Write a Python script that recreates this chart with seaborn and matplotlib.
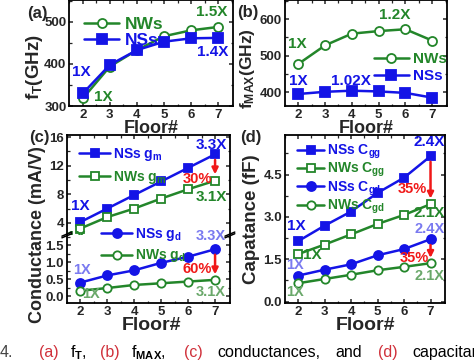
import numpy as np
import pandas as pd
import matplotlib
matplotlib.use("Agg")
import matplotlib.pyplot as plt
import seaborn as sns
from matplotlib.ticker import AutoMinorLocator

# data
floors = [2, 3, 4, 5, 6, 7]
ft_nws = [318, 394, 433, 466, 480, 488]
ft_nss = [330, 398, 433, 453, 461, 462]
fmax_nws = [477, 528, 560, 567, 572, 541]
fmax_nss = [395, 401, 404, 402, 398, 385]
gm_nss = [4.1, 6.0, 7.9, 9.8, 11.7, 13.6]
gm_nws = [3.2, 4.8, 6.0, 7.4, 8.7, 9.9]
gd_nss = [0.40, 0.61, 0.76, 0.98, 1.16, 1.38]
gd_nws = [0.16, 0.24, 0.33, 0.38, 0.43, 0.48]
cgg_nss = [2.14, 2.69, 3.19, 3.85, 4.39, 5.15]
cgg_nws = [1.68, 2.02, 2.38, 2.75, 3.07, 3.45]
cgd_nss = [0.92, 1.13, 1.32, 1.64, 1.86, 2.21]
cgd_nws = [0.65, 0.80, 0.95, 1.11, 1.23, 1.36]

BLUE = "#1414e6"
GREEN = "#23862a"
RED = "#f01818"
LBLUE = "#7a7af0"
LGREEN = "#6aa86a"

sns.set_style("ticks")
plt.rcParams["font.family"] = ["Liberation Sans", "DejaVu Sans"]
plt.rcParams["font.weight"] = "bold"
plt.rcParams["axes.labelweight"] = "bold"
plt.rcParams["axes.linewidth"] = 1.3
plt.rcParams["mathtext.fontset"] = "custom"
plt.rcParams["mathtext.rm"] = "Liberation Sans"
plt.rcParams["mathtext.bf"] = "Liberation Sans:bold"
plt.rcParams["mathtext.default"] = "bf"

fig = plt.figure(figsize=(4.74, 3.62), dpi=100)


def style(ax, bottom=True, top=True):
    ax.tick_params(direction="in", labelsize=9.5, width=1.1, length=3,
                   top=top, right=True, bottom=bottom, pad=2)
    ax.tick_params(which="minor", direction="in", length=1.8, width=0.9,
                   top=top, right=True, bottom=bottom)
    ax.xaxis.set_minor_locator(AutoMinorLocator(2))
    ax.yaxis.set_minor_locator(AutoMinorLocator(2))
    for s in ax.spines.values():
        s.set_color("black")
    for lab in ax.get_xticklabels() + ax.get_yticklabels():
        lab.set_fontweight("bold")


def line(ax, y, color, marker, filled, label, ms=6.5):
    sns.lineplot(x=floors, y=y, ax=ax, color=color, marker=marker, label=label,
                 markersize=ms, linewidth=1.8, markeredgecolor=color,
                 markeredgewidth=1.3,
                 markerfacecolor=color if filled else "white")


def color_legend(leg, colors):
    for t, c in zip(leg.get_texts(), colors):
        t.set_color(c)
        t.set_fontweight("bold")


ARROW = dict(arrowstyle="-|>", color=RED, lw=1.8, mutation_scale=9)

# ---- (a) fT
axa = fig.add_axes([0.146, 0.707, 0.346, 0.293])
line(axa, ft_nws, GREEN, "o", False, "NWs")
line(axa, ft_nss, BLUE, "s", True, "NSs")
axa.set_xlim(1.5, 7.55)
axa.set_ylim(300, 552)
axa.set_xticks(floors)
axa.set_yticks([300, 400, 500])
axa.set_ylabel("")
leg = axa.legend(loc="upper left", bbox_to_anchor=(0.04, 0.92), frameon=False,
                 fontsize=12.5, handlelength=2.0, borderpad=0, labelspacing=0.05,
                 handletextpad=0.3)
color_legend(leg, [GREEN, BLUE])
axa.text(1.95, 372, "1X", color=BLUE, fontsize=11, ha="center")
axa.text(2.75, 312, "1X", color=GREEN, fontsize=11, ha="center")
axa.text(6.75, 515, "1.5X", color=GREEN, fontsize=11, ha="center")
axa.text(6.8, 420, "1.4X", color=BLUE, fontsize=11, ha="center")
style(axa)

# ---- (b) fMAX
axb = fig.add_axes([0.601, 0.707, 0.342, 0.293])
line(axb, fmax_nws, GREEN, "o", False, "NWs")
line(axb, fmax_nss, BLUE, "s", True, "NSs")
axb.set_xlim(1.5, 7.55)
axb.set_ylim(362, 652)
axb.set_xticks(floors)
axb.set_yticks([400, 500, 600])
axb.set_ylabel("")
leg = axb.legend(loc="upper left", bbox_to_anchor=(0.5, 0.58), frameon=False,
                 fontsize=11, handlelength=2.3, borderpad=0, labelspacing=0.2,
                 handletextpad=0.3)
color_legend(leg, [GREEN, BLUE])
axb.text(1.95, 522, "1X", color=GREEN, fontsize=11, ha="center")
axb.text(5.6, 600, "1.2X", color=GREEN, fontsize=11, ha="center")
axb.text(2.0, 420, "1X", color=BLUE, fontsize=11, ha="center")
axb.text(3.95, 420, "1.02X", color=BLUE, fontsize=11, ha="center")
style(axb)

fig.text(0.072, 0.815, "f$_T$(GHz)", rotation=90, fontsize=13.5,
         ha="center", va="center")
fig.text(0.522, 0.812, "f$_{MAX}$(GHz)", rotation=90, fontsize=12.5,
         ha="center", va="center")
for x in (0.319, 0.772):
    fig.text(x, 0.633, "Floor#", fontsize=13, ha="center", va="baseline")

# ---- (c) conductances, broken axis
axc1 = fig.add_axes([0.141, 0.351, 0.344, 0.276])
axc2 = fig.add_axes([0.141, 0.163, 0.344, 0.188])
line(axc1, gm_nss, BLUE, "s", True, "NSs g$_m$", ms=6)
line(axc1, gm_nws, GREEN, "s", False, "NWs g$_m$", ms=5.5)
line(axc2, gd_nss, BLUE, "o", True, "NSs g$_d$", ms=6.5)
line(axc2, gd_nws, GREEN, "o", False, "NWs g$_d$", ms=6)
for ax in (axc1, axc2):
    ax.set_xlim(1.5, 7.55)
    ax.set_xticks(floors)
axc1.set_ylim(2.3, 16.3)
axc1.set_yticks([4, 8, 12, 16])
axc2.set_ylim(-0.2, 1.8)
axc2.set_yticks([0.0, 0.5, 1.0, 1.5])
axc1.spines["bottom"].set_visible(False)
axc2.spines["top"].set_visible(False)
axc1.set_xticklabels([])
style(axc1, bottom=False)
style(axc2, top=False)
axc2.set_yticklabels(["0.0", "0.5", "1.0", "1.5"], fontweight="bold")
# break marks
for xx in (0.0, 1.0):
    for dy in (-0.012, 0.012):
        axc2.plot([xx - 0.03, xx + 0.03], [1.0 + dy - 0.03, 1.0 + dy + 0.03],
                  transform=axc2.transAxes, color="black", lw=1.1, clip_on=False)
leg = axc1.legend(loc="upper left", bbox_to_anchor=(0.035, 0.96), frameon=False,
                  fontsize=10, handlelength=2.2, borderpad=0, labelspacing=0.45,
                  handletextpad=0.2)
color_legend(leg, [BLUE, GREEN])
leg = axc2.legend(loc="upper left", bbox_to_anchor=(0.17, 1.24), frameon=False,
                  fontsize=10, handlelength=2.2, borderpad=0, labelspacing=0.35,
                  handletextpad=0.2)
color_legend(leg, [BLUE, GREEN])
axc1.text(2.0, 5.8, "1X", color=BLUE, fontsize=11, ha="center")
axc1.text(1.85, 1.5, "1X", color=GREEN, fontsize=11, ha="center", clip_on=False)
axc1.text(6.85, 14.3, "3.3X", color=BLUE, fontsize=11, ha="center")
axc1.text(6.35, 10.1, "30%", color=RED, fontsize=10.5, ha="center", va="center")
axc1.text(6.85, 7.1, "3.1X", color=GREEN, fontsize=11, ha="center")
axc1.annotate("", xy=(7, 10.4), xytext=(7, 13.2), arrowprops=ARROW)
axc2.text(2.05, 0.66, "1X", color=LBLUE, fontsize=10.5, ha="center")
axc2.text(2.4, -0.05, "1X", color=LGREEN, fontsize=10.5, ha="center")
axc2.text(6.85, 1.64, "3.3X", color=LBLUE, fontsize=10.5, ha="center")
axc2.text(6.35, 0.8, "60%", color=RED, fontsize=10.5, ha="center", va="center")
axc2.text(6.85, 0.0, "3.1X", color=LGREEN, fontsize=10.5, ha="center")
axc2.annotate("", xy=(7, 0.56), xytext=(7, 1.3), arrowprops=ARROW)
fig.text(0.080, 0.352, "Conductance (mA/V)", rotation=90, fontsize=13,
         ha="center", va="center")

# ---- (d) capacitances
axd = fig.add_axes([0.601, 0.163, 0.338, 0.464])
line(axd, cgg_nss, BLUE, "s", True, "NSs C$_{gg}$", ms=6)
line(axd, cgg_nws, GREEN, "s", False, "NWs C$_{gg}$", ms=5.5)
line(axd, cgd_nss, BLUE, "o", True, "NSs C$_{gd}$", ms=6.5)
line(axd, cgd_nws, GREEN, "o", False, "NWs C$_{gd}$", ms=6)
axd.set_xlim(1.5, 7.55)
axd.set_ylim(-0.05, 5.9)
axd.set_xticks(floors)
axd.set_yticks([0.0, 1.5, 3.0, 4.5])
axd.set_ylabel("")
leg = axd.legend(loc="upper left", bbox_to_anchor=(0.03, 0.995), frameon=False,
                 fontsize=10, handlelength=2.0, borderpad=0, labelspacing=0.0,
                 handletextpad=0.2)
color_legend(leg, [BLUE, GREEN, BLUE, GREEN])
axd.text(1.95, 2.55, "1X", color=BLUE, fontsize=11, ha="center")
axd.text(2.55, 1.5, "1X", color=GREEN, fontsize=11, ha="center")
axd.text(6.95, 5.5, "2.4X", color=BLUE, fontsize=11, ha="center")
axd.text(6.3, 4.0, "35%", color=RED, fontsize=10.5, ha="center", va="center")
axd.text(6.95, 2.98, "2.1X", color=GREEN, fontsize=11, ha="center")
axd.text(6.95, 2.42, "2.4X", color=LBLUE, fontsize=10.5, ha="center")
axd.text(6.4, 1.55, "35%", color=RED, fontsize=10.5, ha="center", va="center")
axd.text(1.9, 1.15, "1X", color=LBLUE, fontsize=10.5, ha="center")
axd.text(1.9, 0.2, "1X", color=LGREEN, fontsize=10.5, ha="center")
axd.text(6.95, 0.78, "2.1X", color=LGREEN, fontsize=10.5, ha="center")
axd.annotate("", xy=(7, 3.55), xytext=(7, 5.05), arrowprops=ARROW)
axd.annotate("", xy=(7, 1.45), xytext=(7, 2.1), arrowprops=ARROW)
style(axd)
fig.text(0.531, 0.395, "Capatance (fF)", rotation=90, fontsize=13.5,
         ha="center", va="center")

for x in (0.319, 0.772):
    fig.text(x, 0.088, "Floor#", fontsize=14, ha="center", va="baseline")

# panel tags
fig.text(0.057, 0.950, "(a)", fontsize=12)
fig.text(0.500, 0.952, "(b)", fontsize=12)
fig.text(0.061, 0.609, "(c)", fontsize=12)
fig.text(0.506, 0.607, "(d)", fontsize=12)

# caption strip
cap = [(0.0, "4.", "#444444"), (0.082, "(a)", "#d0303a"), (0.148, "f$_\\mathrm{T}$,", "black"),
       (0.211, "(b)", "#d0303a"), (0.276, "f$_\\mathrm{MAX}$,", "black"),
       (0.388, "(c)", "#d0303a"), (0.458, "conductances,", "black"),
       (0.707, "and", "black"), (0.797, "(d)", "#d0303a"), (0.871, "capacitances", "black")]
for x, s, c in cap:
    fig.text(x, 0.014, s, color=c, fontsize=11.5, fontweight="normal")

fig.savefig("out.png", dpi=100)
